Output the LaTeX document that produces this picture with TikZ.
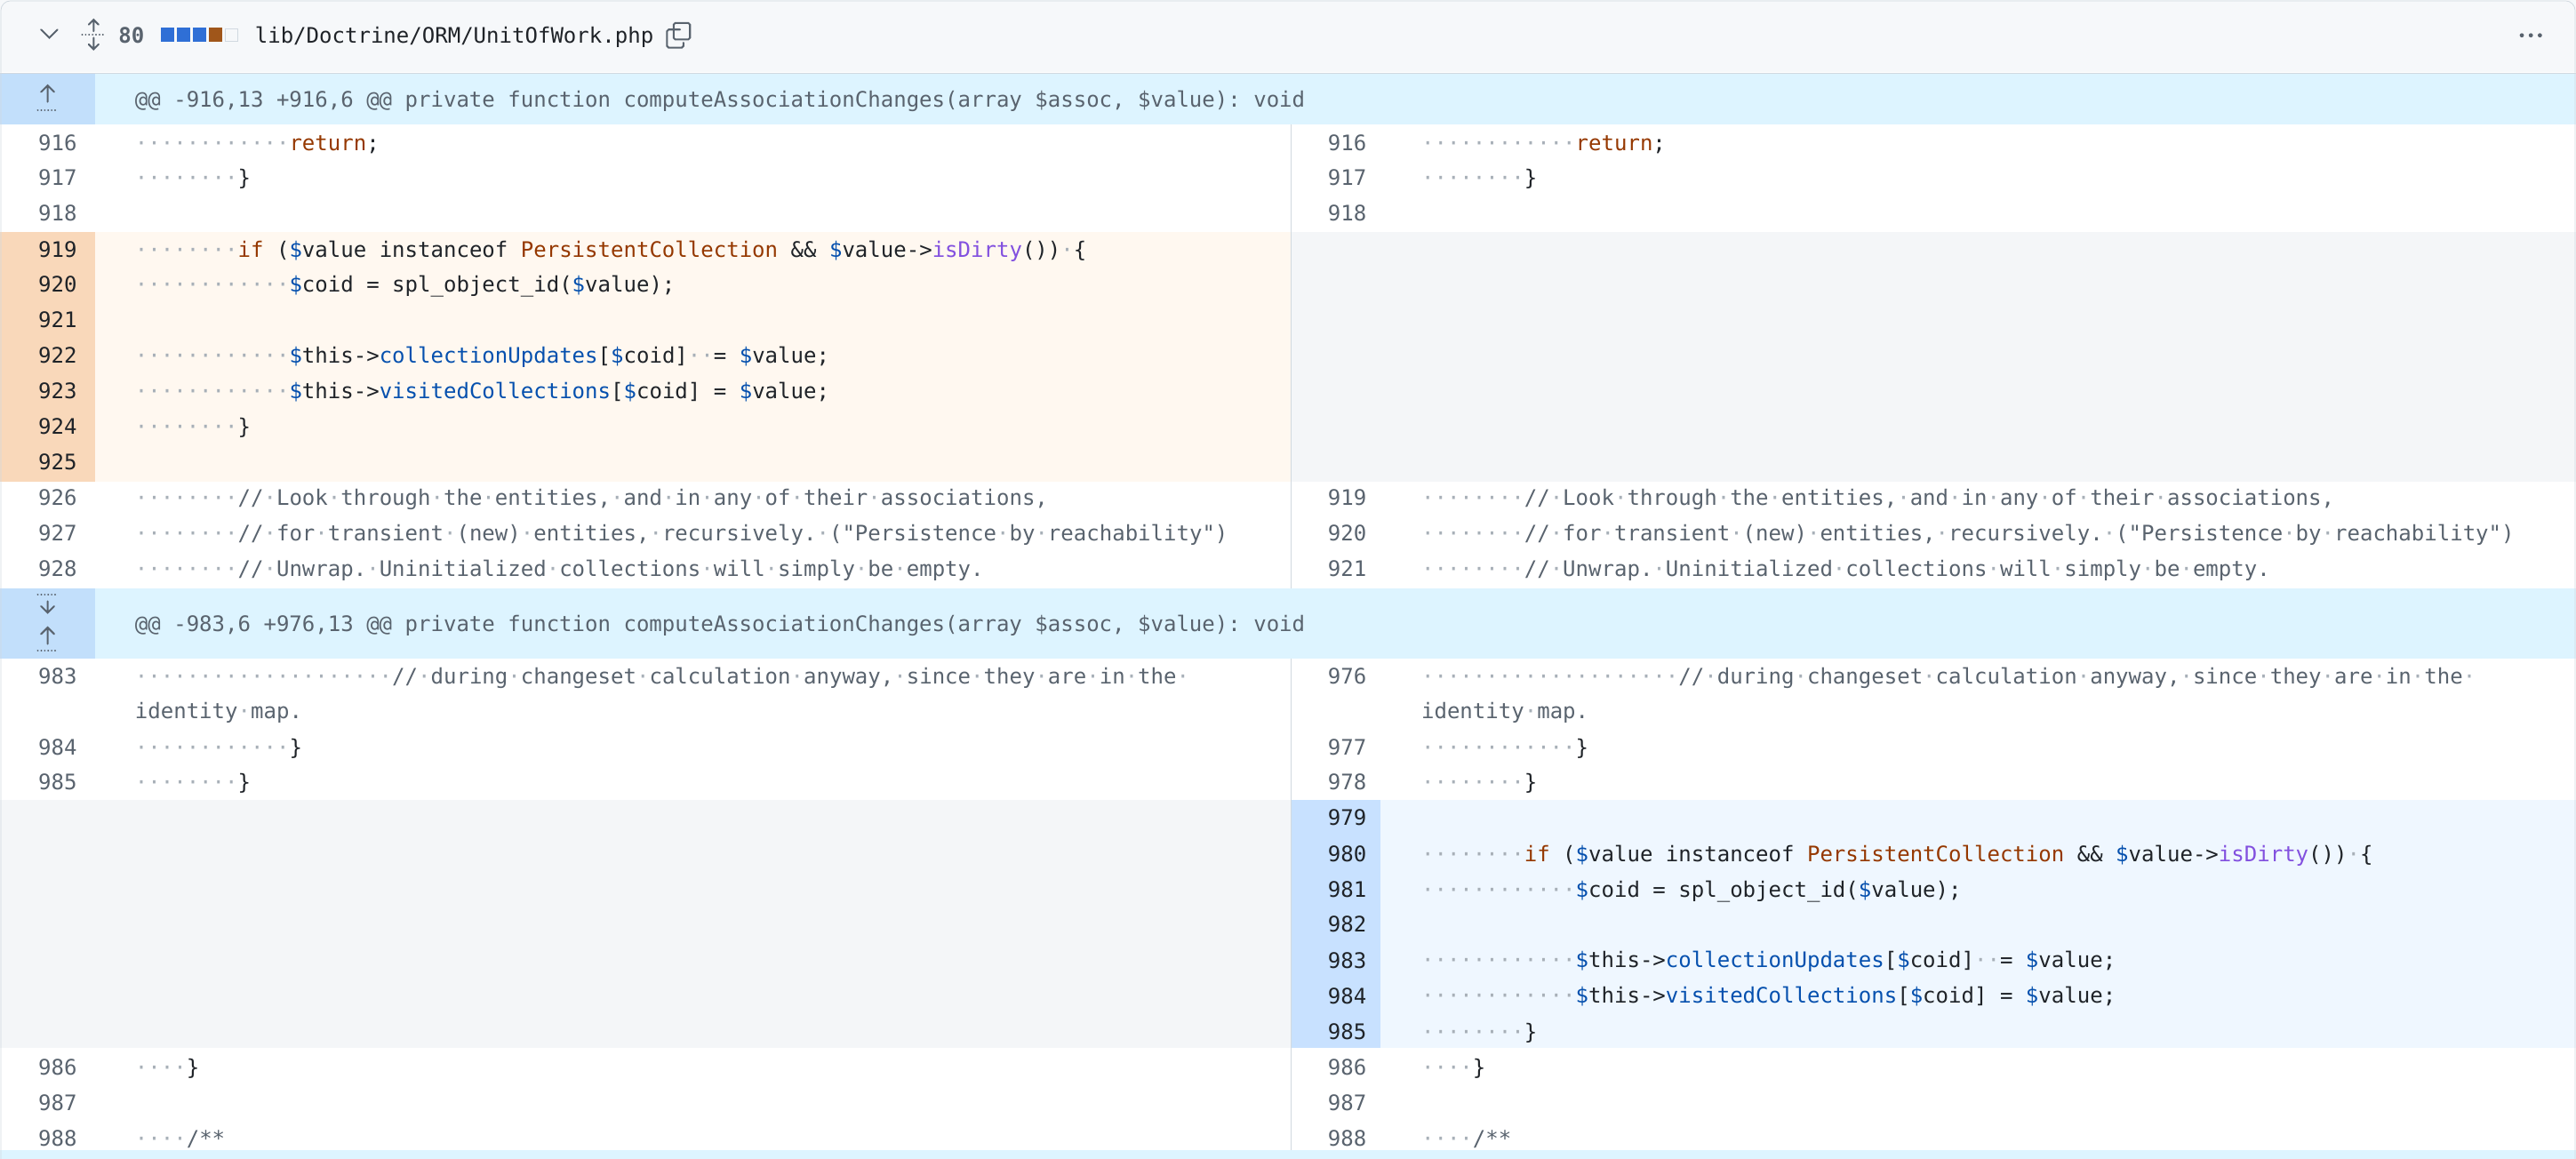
\documentclass[tikz,border=0pt]{standalone}
\usepackage{fontspec}
\setmainfont{Liberation Sans}
\setmonofont{DejaVu Sans Mono}
\usetikzlibrary{positioning}

\definecolor{hdrbg}{HTML}{F6F8FA}
\definecolor{hunkbg}{HTML}{DDF4FF}
\definecolor{hunkgut}{HTML}{C2DFFB}
\definecolor{delnum}{HTML}{F9D8BA}
\definecolor{delbg}{HTML}{FFF8F0}
\definecolor{addnum}{HTML}{C8E1FF}
\definecolor{addbg}{HTML}{EFF7FF}
\definecolor{emptybg}{HTML}{F4F6F8}
\definecolor{rulec}{HTML}{D1D9E0}
\definecolor{txtc}{HTML}{1F2328}
\definecolor{numc}{HTML}{59636E}
\definecolor{dotc}{HTML}{A8B0B8}
\definecolor{kwc}{HTML}{953800}
\definecolor{varc}{HTML}{0550AE}
\definecolor{fnc}{HTML}{8250DF}
\definecolor{cmc}{HTML}{59636E}
\definecolor{statblue}{HTML}{2F6FD6}
\definecolor{statbrown}{HTML}{A0561A}

\newcommand\codefont{\fontsize{13}{15}\selectfont\ttfamily}
\newcommand\dt[1]{\textcolor{dotc}{#1}}
\newcommand\ds{\textcolor{dotc}{·}}
\newcommand\kw[1]{\textcolor{kwc}{#1}}
\newcommand\pr[1]{\textcolor{varc}{#1}}
\newcommand\fn[1]{\textcolor{fnc}{#1}}
\newcommand\cm[1]{\textcolor{cmc}{#1}}
\newcommand\V{\textcolor{varc}{\$}}

\begin{document}
\begin{tikzpicture}[x=1pt,y=-1pt,
    code/.style={anchor=base west, inner sep=0pt, font=\codefont, text=txtc},
    num/.style={anchor=base east, inner sep=0pt, font=\codefont, text=numc},
    numdark/.style={num, text=txtc},
    hunktxt/.style={code, text=numc},
    icon/.style={draw=numc, line width=1.1pt, line cap=round}
]
\useasboundingbox (0,0) rectangle (1568,705.5);

% backgrounds
\fill[hdrbg] (0,0) rectangle (1568,44);
\fill[hunkbg] (0,45) rectangle (1568,76);
\fill[hunkgut] (0,45) rectangle (58,76);
\fill[delnum] (0,141) rectangle (58,293);
\fill[delbg] (58,141) rectangle (786,293);
\fill[emptybg] (786,141) rectangle (1568,293);
\fill[hunkbg] (0,358) rectangle (1568,401);
\fill[hunkgut] (0,358) rectangle (58,401);
\fill[emptybg] (0,487) rectangle (786,638);
\fill[addnum] (786,487) rectangle (840,638);
\fill[addbg] (840,487) rectangle (1568,638);
\fill[hunkbg] (0,700) rectangle (1568,705.5);
\draw[rulec] (786,76) -- (786,358) (786,401) -- (786,700);
\draw[rulec] (0,44.5) -- (1568,44.5);
\draw[rulec, rounded corners=6pt] (0.5,705.5) -- (0.5,0.5) -- (1567.5,0.5) -- (1567.5,705.5);

% header
\draw[icon] (25,18) -- (30,23) -- (35,18);
\draw[icon] (54,15) -- (57,12) -- (60,15) (57,12) -- (57,19);
\draw[icon] (54,27) -- (57,30) -- (60,27) (57,30) -- (57,23);
\draw[icon, dash pattern=on 0.1pt off 2pt] (50,21) -- (64,21);
\node[code, font=\codefont\bfseries, text=numc] (adds) at (72,26) {80};
\foreach \i/\c in {0/statblue,1/statblue,2/statblue,3/statbrown}
  \fill[\c] (98+\i*9.7,17) rectangle +(8.2,8.5);
\draw[rulec, fill=hdrbg] (137.3,17.5) rectangle +(7.5,7.5);
\node[code] (fname) at (155,26) {lib/Doctrine/ORM/UnitOfWork.php};
\draw[icon, rounded corners=1pt] (410,14) rectangle (420,24);
\draw[icon, rounded corners=1pt] (414,18) -- (406,18) -- (406,29) -- (416,29) -- (416,26);
\foreach \i in {0,1,2} \fill[numc] (1535+\i*5.5,21.5) circle (1.3pt);

% hunk icons
\draw[icon] (25,56) -- (29,52) -- (33,56) (29,52) -- (29,62);
\draw[icon, dash pattern=on 0.1pt off 2pt] (23,67) -- (35,67);
\draw[icon, dash pattern=on 0.1pt off 2pt] (23,362) -- (35,362);
\draw[icon] (25,369) -- (29,373) -- (33,369) (29,366) -- (29,373);
\draw[icon] (25,386) -- (29,382) -- (33,386) (29,382) -- (29,392);
\draw[icon, dash pattern=on 0.1pt off 2pt] (23,396) -- (35,396);

\node[hunktxt] (hunkA) at (82,65) {@@ -916,13 +916,6 @@ private function computeAssociationChanges(array \$assoc, \$value): void};
\node[hunktxt] (hunkB) at (82,384.5) {@@ -983,6 +976,13 @@ private function computeAssociationChanges(array \$assoc, \$value): void};

% line numbers
\foreach \n/\y in {916/87,917/108.5,918/130,926/303,927/325,928/346.5,983/412,984/455,985/476.5,986/650,987/671.5,988/693}
  \node[num] (l\n) at (47,\y+4.5) {\n};
\foreach \n/\y in {919/152,920/173.5,921/195,922/216.5,923/238,924/260,925/281.5}
  \node[numdark] (l\n) at (47,\y+4.5) {\n};
\foreach \n/\y in {916/87,917/108.5,918/130,919/303,920/325,921/346.5,976/412,977/455,978/476.5,986/650,987/671.5,988/693}
  \node[num] (r\n) at (832,\y+4.5) {\n};
\foreach \n/\y in {979/498,980/520,981/541.5,982/563,983/585,984/606.5,985/628}
  \node[numdark] (r\n) at (832,\y+4.5) {\n};

% code, both sides
\foreach \s/\x in {l/82,r/865} {
  \node[code] (\s ret) at (\x,91.5) {\dt{············}\kw{return};};
  \node[code] (\s endA) at (\x,113) {\dt{········}\}};
  \node[code] (\s cmA) at (\x,307.5) {\dt{········}\cm{//\ds Look\ds through\ds the\ds entities,\ds and\ds in\ds any\ds of\ds their\ds associations,}};
  \node[code] (\s cmB) at (\x,329.5) {\dt{········}\cm{//\ds for\ds transient\ds (new)\ds entities,\ds recursively.\ds ("Persistence\ds by\ds reachability")}};
  \node[code] (\s cmC) at (\x,351) {\dt{········}\cm{//\ds Unwrap.\ds Uninitialized\ds collections\ds will\ds simply\ds be\ds empty.}};
  \node[code] (\s cmD) at (\x,416.5) {\dt{····················}\cm{//\ds during\ds changeset\ds calculation\ds anyway,\ds since\ds they\ds are\ds in\ds the\ds}};
  \node[code] (\s cmE) at (\x,437.5) {\cm{identity\ds map.}};
  \node[code] (\s endB) at (\x,459.5) {\dt{············}\}};
  \node[code] (\s endC) at (\x,481) {\dt{········}\}};
  \node[code] (\s endD) at (\x,654.5) {\dt{····}\}};
  \node[code] (\s doc) at (\x,697.5) {\dt{····}\cm{/**}};
}

% moved block: removed on the left, added on the right
\foreach \s/\x/\y in {l/82/152,r/865/520} {
  \node[code] (\s if) at (\x,\y+4.5) {\dt{········}\kw{if} (\V value instanceof \kw{PersistentCollection} \&\& \V value->\fn{isDirty}())\dt{·}\{};
  \node[code] (\s coid) at (\x,\y+26) {\dt{············}\V coid = spl\_object\_id(\V value);};
  \node[code] (\s upd) at (\x,\y+69) {\dt{············}\V this->\pr{collectionUpdates}[\V coid]\dt{··}= \V value;};
  \node[code] (\s vis) at (\x,\y+90.5) {\dt{············}\V this->\pr{visitedCollections}[\V coid] = \V value;};
  \node[code] (\s endif) at (\x,\y+112.5) {\dt{········}\}};
}
\end{tikzpicture}
\end{document}
